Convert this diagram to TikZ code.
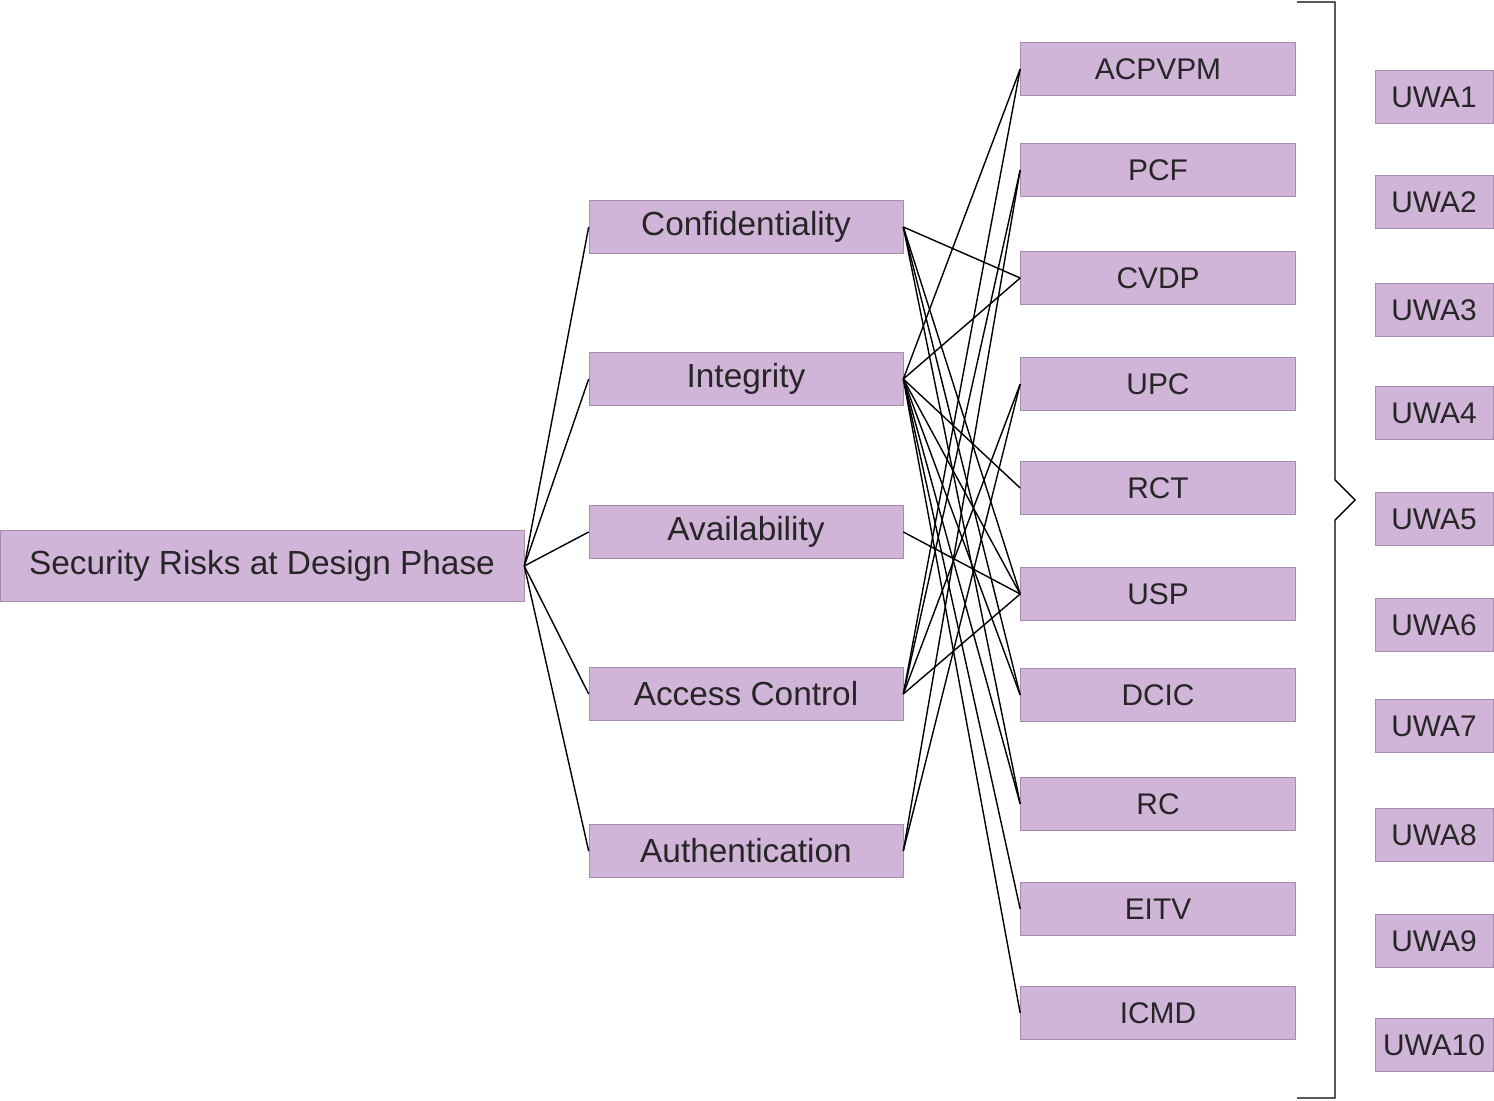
\documentclass[tikz,border=0pt]{standalone}
\usepackage{fontspec}
\setmainfont{Liberation Sans}
\definecolor{boxfill}{HTML}{D1B5D9}
\definecolor{boxline}{HTML}{A88CB0}
\begin{document}
\begin{tikzpicture}[x=0.02cm,y=-0.02cm,
    risk/.style={draw=boxline,fill=boxfill,minimum height=1.06cm,inner sep=0pt,
        font=\fontsize{19}{22}\selectfont,text=black!85},
    prop/.style={risk,minimum width=6.28cm},
    cause/.style={risk,minimum width=5.5cm,font=\fontsize{17}{20}\selectfont},
    uwa/.style={risk,minimum width=2.36cm,font=\fontsize{17}{20}\selectfont},
    link/.style={thick,black}]
    % Bounding box
    \useasboundingbox (0,0) rectangle (1494,1101);
    % Root
    \node[risk,minimum width=10.48cm,minimum height=1.42cm] (root) at (262,566) {Security Risks at Design Phase};
    % Security properties
    \node[prop] (conf)  at (746,227) {Confidentiality};
    \node[prop] (integ) at (746,379) {Integrity};
    \node[prop] (avail) at (746,532) {Availability};
    \node[prop] (acc)   at (746,694) {Access Control};
    \node[prop] (auth)  at (746,851) {Authentication};
    % Risk causes
    \node[cause] (acpvpm) at (1158,69)   {ACPVPM};
    \node[cause] (pcf)    at (1158,170)  {PCF};
    \node[cause] (cvdp)   at (1158,278)  {CVDP};
    \node[cause] (upc)    at (1158,384)  {UPC};
    \node[cause] (rct)    at (1158,488)  {RCT};
    \node[cause] (usp)    at (1158,594)  {USP};
    \node[cause] (dcic)   at (1158,695)  {DCIC};
    \node[cause] (rc)     at (1158,804)  {RC};
    \node[cause] (eitv)   at (1158,909)  {EITV};
    \node[cause] (icmd)   at (1158,1013) {ICMD};
    % Web application weaknesses
    \foreach \n/\y in {1/97,2/202,3/310,4/413,5/519,6/625,7/726,8/835,9/941,10/1045}
        \node[uwa] (uwa\n) at (1434,\y) {UWA\n};
    % Root to properties
    \foreach \p in {conf,integ,avail,acc,auth}
        \draw[link] (root.east) -- (\p.west);
    % Properties to causes
    \foreach \c in {cvdp,usp,dcic,rc}
        \draw[link] (conf.east) -- (\c.west);
    \foreach \c in {acpvpm,cvdp,rct,usp,dcic,rc,eitv,icmd}
        \draw[link] (integ.east) -- (\c.west);
    \draw[link] (avail.east) -- (usp.west);
    \foreach \c in {acpvpm,pcf,upc,usp}
        \draw[link] (acc.east) -- (\c.west);
    \foreach \c in {pcf,upc}
        \draw[link] (auth.east) -- (\c.west);
    % Brace
    \coordinate (bt) at (1297,2);
    \coordinate (bb) at (1297,1098);
    \draw[link] (bt) -- (1335,2) -- (1335,480) -- (1355,500) -- (1335,520) -- (1335,1098) -- (bb);
\end{tikzpicture}
\end{document}
